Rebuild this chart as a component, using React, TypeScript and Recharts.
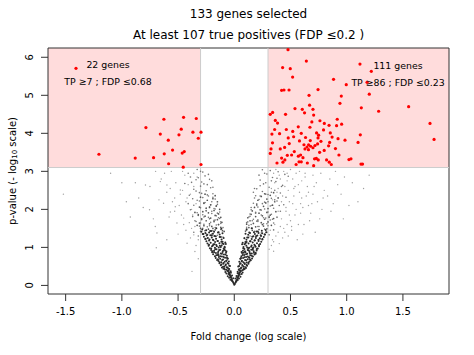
import { ScatterChart, Scatter, XAxis, YAxis, ReferenceArea, ReferenceLine } from 'recharts'

// axis setup
const xTicks = [-1.5, -1, -0.5, 0, 0.5, 1, 1.5]
const yTicks = [0, 1, 2, 3, 4, 5, 6]
const xDomain: [number, number] = [-1.657, 1.91]
const yDomain: [number, number] = [-0.226, 6.244]
const fcCut = 0.3
const pCut = 3.1

// selected genes, down-regulated (22)
const redLeft: [number, number][] = [
  [-1.408, 5.71], [-0.626, 4.37], [-0.451, 4.42], [-0.338, 4.39], [-0.786, 4.15], [-0.472, 4.11],
  [-0.658, 3.98], [-0.492, 3.96], [-0.368, 4.03], [-0.296, 4.03], [-0.32, 3.87], [-0.587, 3.82],
  [-0.549, 3.56], [-0.445, 3.52], [-0.463, 3.48], [-0.623, 3.46], [-0.718, 3.36], [-0.881, 3.35],
  [-1.204, 3.45], [-0.584, 3.2], [-0.454, 3.11], [-0.296, 3.18],
]

// selected genes, up-regulated (111)
const redRight: [number, number][] = [
  [0.478, 6.2], [0.641, 5.9], [0.43, 5.73], [0.498, 5.7], [1.118, 5.82], [1.219, 5.63], [0.519, 5.48],
  [0.883, 5.42], [0.996, 5.28], [1.181, 5.34], [0.421, 5.13], [0.442, 5.14], [0.487, 5.14], [0.745, 5.15],
  [0.665, 5.0], [0.952, 4.98], [1.201, 5.03], [0.94, 4.79], [0.67, 4.74], [0.54, 4.65], [0.605, 4.63],
  [0.7, 4.63], [1.13, 4.67], [1.284, 4.58], [1.551, 4.7], [0.32, 4.5], [0.341, 4.55], [0.456, 4.5],
  [0.625, 4.54], [0.706, 4.48], [0.365, 4.34], [0.385, 4.27], [0.762, 4.33], [0.916, 4.37], [0.569, 4.17],
  [0.673, 4.16], [0.801, 4.26], [0.843, 4.21], [0.91, 4.2], [0.955, 4.24], [1.741, 4.26], [0.359, 4.1],
  [0.463, 4.1], [0.596, 4.0], [0.732, 4.01], [0.794, 4.09], [0.854, 4.01], [0.335, 3.98], [0.403, 3.99],
  [0.528, 3.91], [0.634, 3.89], [0.745, 3.88], [1.121, 3.96], [0.923, 3.86], [0.985, 3.82], [0.676, 3.81],
  [0.771, 3.79], [0.848, 3.76], [1.101, 3.76], [1.777, 3.84], [0.489, 3.73], [0.661, 3.7], [0.679, 3.66],
  [0.647, 3.64], [0.718, 3.68], [0.741, 3.72], [0.839, 3.67], [0.448, 3.63], [0.327, 3.59], [0.409, 3.59],
  [0.629, 3.59], [0.534, 3.52], [0.759, 3.5], [0.32, 3.47], [0.51, 3.43], [0.59, 3.43], [0.611, 3.36],
  [0.931, 3.43], [0.421, 3.35], [0.472, 3.42], [0.714, 3.33], [0.73, 3.34], [0.747, 3.3], [0.821, 3.3],
  [1.02, 3.31], [1.038, 3.33], [0.433, 3.24], [0.576, 3.25], [0.596, 3.25], [0.706, 3.15], [0.845, 3.24],
  [0.863, 3.18], [1.127, 3.19], [1.141, 3.19], [0.62, 3.7], [0.66, 3.57], [0.7, 3.62], [0.58, 3.8],
  [0.52, 4.05], [0.75, 3.95], [0.8, 3.55], [0.45, 3.3], [0.38, 3.22], [0.55, 3.18], [0.65, 3.22],
  [0.9, 3.6], [0.34, 3.75], [0.48, 3.88], [0.87, 3.9], [0.69, 4.3], [0.57, 3.4],
]

// not selected: dense bottom of the volcano
const grayDense: [number, number][] = [
  [0, 0.02], [0.005, 0.04], [-0.005, 0.05], [0.01, 0.07], [-0.01, 0.08], [0.015, 0.1], [-0.015, 0.11],
  [0.02, 0.13], [-0.02, 0.14], [0.025, 0.16], [-0.025, 0.17], [0.01, 0.18], [-0.01, 0.19], [0.03, 0.2],
  [-0.03, 0.21], [0.035, 0.23], [-0.035, 0.24], [0.02, 0.25], [-0.02, 0.26], [0.04, 0.27], [-0.04, 0.28],
  [0.045, 0.3], [-0.045, 0.31], [0.03, 0.32], [-0.03, 0.33], [0.05, 0.34], [-0.05, 0.35],
  [0.03, 0.36], [-0.032, 0.37], [0.055, 0.38], [-0.058, 0.39], [0.07, 0.4], [-0.072, 0.41], [0.04, 0.42],
  [-0.045, 0.43], [0.085, 0.44], [-0.09, 0.45], [0.06, 0.46], [-0.063, 0.47], [0.1, 0.48], [-0.1, 0.49],
  [0.035, 0.5], [-0.038, 0.51], [0.075, 0.52], [-0.078, 0.53], [0.11, 0.54], [-0.115, 0.55], [0.05, 0.56],
  [-0.052, 0.57], [0.09, 0.58], [-0.095, 0.59], [0.125, 0.6], [-0.13, 0.61], [0.045, 0.62], [-0.048, 0.63],
  [0.068, 0.64], [-0.07, 0.65], [0.105, 0.66], [-0.108, 0.67], [0.14, 0.68], [-0.145, 0.69], [0.055, 0.7],
  [-0.06, 0.7], [0.06, 0.72], [-0.065, 0.73], [0.09, 0.74], [-0.095, 0.75], [0.12, 0.76], [-0.125, 0.77],
  [0.155, 0.78], [-0.16, 0.79], [0.075, 0.8], [-0.078, 0.81], [0.105, 0.82], [-0.11, 0.83], [0.14, 0.84],
  [-0.145, 0.85], [0.175, 0.86], [-0.18, 0.87], [0.065, 0.88], [-0.07, 0.89], [0.095, 0.9], [-0.1, 0.91],
  [0.13, 0.92], [-0.135, 0.93], [0.165, 0.94], [-0.17, 0.95], [0.2, 0.96], [-0.205, 0.97], [0.08, 0.98],
  [-0.085, 0.99], [0.115, 1.0], [-0.12, 1.01], [0.15, 1.02], [-0.155, 1.03], [0.185, 1.04], [-0.19, 1.05],
  [0.22, 1.06], [-0.225, 1.07], [0.07, 1.08], [-0.075, 1.09], [0.1, 1.1], [-0.105, 1.1], [0.135, 0.73],
  [-0.14, 0.8], [0.19, 0.83], [-0.195, 0.9], [0.085, 0.86], [-0.09, 0.94], [0.125, 0.97], [-0.128, 1.04],
  [0.17, 1.0], [-0.175, 1.08], [0.075, 1.12], [-0.08, 1.13], [0.11, 1.14], [-0.115, 1.15], [0.145, 1.16],
  [-0.15, 1.17], [0.18, 1.18], [-0.185, 1.19], [0.215, 1.2], [-0.22, 1.21], [0.25, 1.22], [-0.255, 1.23],
  [0.09, 1.24], [-0.095, 1.25], [0.125, 1.26], [-0.13, 1.27], [0.16, 1.28], [-0.165, 1.29], [0.195, 1.3],
  [-0.2, 1.31], [0.235, 1.32], [-0.24, 1.33], [0.27, 1.34], [-0.275, 1.35], [0.1, 1.36], [-0.105, 1.37],
  [0.14, 1.38], [-0.145, 1.39], [0.175, 1.4], [-0.18, 1.41], [0.21, 1.42], [-0.215, 1.43], [0.245, 1.44],
  [-0.25, 1.45], [0.28, 1.46], [-0.285, 1.47], [0.11, 1.48], [-0.115, 1.49], [0.155, 1.5], [-0.16, 1.5],
]

const grayDenseLeft: [number, number][] = [
  [-0.021, 0.12], [-0.034, 0.15], [-0.046, 0.2], [-0.029, 0.22], [-0.058, 0.24], [-0.038, 0.27], [-0.052, 0.3],
  [-0.07, 0.31], [-0.043, 0.33], [-0.079, 0.35], [-0.061, 0.38], [-0.049, 0.4], [-0.084, 0.42], [-0.097, 0.44],
  [-0.055, 0.45], [-0.068, 0.48], [-0.11, 0.47], [-0.089, 0.5], [-0.045, 0.52], [-0.12, 0.53], [-0.075, 0.55],
  [-0.098, 0.57], [-0.06, 0.59], [-0.132, 0.58], [-0.115, 0.61], [-0.085, 0.62], [-0.141, 0.64], [-0.07, 0.65],
  [-0.153, 0.67], [-0.1, 0.68], [-0.126, 0.7], [-0.058, 0.71], [-0.165, 0.72], [-0.082, 0.73], [-0.137, 0.75],
  [-0.11, 0.76], [-0.172, 0.77], [-0.066, 0.78], [-0.148, 0.8], [-0.092, 0.81], [-0.188, 0.82], [-0.12, 0.84],
  [-0.163, 0.85], [-0.073, 0.86], [-0.197, 0.87], [-0.104, 0.88], [-0.142, 0.89], [-0.18, 0.91], [-0.08, 0.92],
  [-0.206, 0.93], [-0.125, 0.94], [-0.158, 0.95], [-0.094, 0.97], [-0.217, 0.98], [-0.172, 0.99], [-0.138, 1.0],
  [-0.086, 1.02], [-0.198, 1.03], [-0.228, 1.04], [-0.112, 1.05], [-0.16, 1.06], [-0.186, 1.08], [-0.095, 1.09],
  [-0.238, 1.1], [-0.132, 1.11], [-0.21, 1.12], [-0.171, 1.14], [-0.104, 1.15], [-0.248, 1.16], [-0.146, 1.17],
  [-0.224, 1.18], [-0.19, 1.2], [-0.113, 1.21], [-0.258, 1.22], [-0.162, 1.23], [-0.235, 1.25], [-0.2, 1.26],
  [-0.12, 1.27], [-0.27, 1.28], [-0.177, 1.3], [-0.246, 1.31], [-0.213, 1.32], [-0.13, 1.34], [-0.281, 1.35],
  [-0.19, 1.36], [-0.257, 1.38], [-0.224, 1.39], [-0.139, 1.4], [-0.292, 1.41], [-0.205, 1.43],
]

const grayDenseRight: [number, number][] = [
  [0.018, 0.1], [0.031, 0.14], [0.042, 0.18], [0.026, 0.21], [0.055, 0.23], [0.036, 0.26], [0.048, 0.29],
  [0.066, 0.3], [0.04, 0.32], [0.074, 0.34], [0.058, 0.37], [0.045, 0.39], [0.081, 0.41], [0.092, 0.43],
  [0.052, 0.44], [0.064, 0.47], [0.104, 0.46], [0.085, 0.49], [0.043, 0.51], [0.114, 0.52], [0.071, 0.54],
  [0.094, 0.56], [0.057, 0.58], [0.126, 0.57], [0.109, 0.6], [0.081, 0.61], [0.135, 0.63], [0.066, 0.64],
  [0.147, 0.66], [0.096, 0.67], [0.12, 0.69], [0.055, 0.7], [0.158, 0.71], [0.078, 0.72], [0.131, 0.74],
  [0.105, 0.75], [0.166, 0.76], [0.063, 0.77], [0.142, 0.79], [0.088, 0.8], [0.18, 0.81], [0.115, 0.83],
  [0.156, 0.84], [0.07, 0.85], [0.19, 0.86], [0.1, 0.87], [0.136, 0.88], [0.173, 0.9], [0.077, 0.91],
  [0.199, 0.92], [0.12, 0.93], [0.151, 0.94], [0.09, 0.96], [0.209, 0.97], [0.165, 0.98], [0.132, 0.99],
  [0.082, 1.01], [0.19, 1.02], [0.22, 1.03], [0.107, 1.04], [0.154, 1.05], [0.179, 1.07], [0.091, 1.08],
  [0.23, 1.09], [0.127, 1.1], [0.202, 1.11], [0.164, 1.13], [0.099, 1.14], [0.24, 1.15], [0.14, 1.16],
  [0.216, 1.17], [0.183, 1.19], [0.108, 1.2], [0.25, 1.21], [0.155, 1.22], [0.227, 1.24], [0.192, 1.25],
  [0.115, 1.26], [0.262, 1.27], [0.17, 1.29], [0.238, 1.3], [0.205, 1.31], [0.124, 1.33], [0.273, 1.34],
  [0.183, 1.35], [0.249, 1.37], [0.216, 1.38], [0.133, 1.39], [0.284, 1.4], [0.197, 1.42],
]

// not selected: the arms just above the dense part
const grayUpper: [number, number][] = [
  [-0.105, 1.44], [-0.17, 1.46], [-0.23, 1.48], [-0.3, 1.5], [-0.12, 1.53], [-0.2, 1.55], [-0.27, 1.57],
  [-0.14, 1.6], [-0.22, 1.62], [-0.31, 1.64], [-0.11, 1.66], [-0.18, 1.68], [-0.25, 1.7], [-0.15, 1.73],
  [-0.29, 1.75], [-0.21, 1.77], [-0.12, 1.79], [-0.26, 1.82], [-0.17, 1.84], [-0.32, 1.86], [-0.14, 1.88],
  [-0.23, 1.91], [-0.28, 1.94], [-0.18, 1.97], [-0.13, 2.0], [-0.25, 2.03], [-0.31, 2.06], [-0.16, 2.09],
  [-0.21, 2.12], [-0.27, 2.16], [-0.15, 2.2], [-0.24, 2.24], [-0.19, 2.28], [-0.3, 2.32], [-0.17, 2.36],
  [-0.26, 2.4], [-0.22, 2.05], [-0.35, 1.92], [-0.33, 1.58], [-0.19, 1.5], [-0.09, 1.42], [-0.26, 1.44],
  [0.1, 1.43], [0.16, 1.45], [0.22, 1.47], [0.29, 1.49], [0.13, 1.52], [0.19, 1.54], [0.26, 1.56],
  [0.33, 1.58], [0.11, 1.61], [0.17, 1.63], [0.24, 1.65], [0.3, 1.67], [0.14, 1.7], [0.21, 1.72],
  [0.27, 1.74], [0.35, 1.76], [0.12, 1.78], [0.19, 1.81], [0.25, 1.83], [0.32, 1.85], [0.15, 1.87],
  [0.22, 1.9], [0.29, 1.92], [0.37, 1.94], [0.16, 1.96], [0.23, 1.99], [0.3, 2.02], [0.18, 2.05],
  [0.26, 2.08], [0.34, 2.11], [0.2, 2.14], [0.28, 2.17], [0.36, 2.2], [0.21, 2.24], [0.29, 2.27],
  [0.39, 2.3], [0.24, 2.34], [0.32, 2.37], [0.27, 2.41], [0.35, 2.44], [0.25, 1.6], [0.31, 1.79],
]

// not selected: upper arms of the volcano
const grayMid: [number, number][] = [
  [0.09, 1.25], [-0.1, 1.27], [0.14, 1.3], [-0.15, 1.32], [0.19, 1.28], [-0.2, 1.35], [0.24, 1.38],
  [-0.25, 1.36], [0.29, 1.4], [-0.3, 1.42], [0.11, 1.45], [-0.12, 1.47], [0.16, 1.5], [-0.17, 1.52],
  [0.21, 1.55], [-0.22, 1.57], [0.27, 1.48], [-0.28, 1.5], [0.13, 1.58], [-0.14, 1.6], [0.18, 1.42],
  [-0.19, 1.44], [0.23, 1.22], [-0.24, 1.24], [0.31, 1.33], [-0.32, 1.3], [0.35, 1.46], [-0.36, 1.4],
  [0.11, 1.65], [-0.12, 1.67], [0.16, 1.7], [-0.17, 1.72], [0.21, 1.68], [-0.22, 1.75], [0.26, 1.78],
  [-0.27, 1.8], [0.31, 1.82], [-0.32, 1.84], [0.14, 1.88], [-0.15, 1.9], [0.19, 1.92], [-0.2, 1.95],
  [0.24, 1.98], [-0.25, 1.96], [0.29, 1.62], [-0.3, 1.64], [0.34, 1.74], [-0.35, 1.7], [0.13, 1.8],
  [-0.14, 1.78], [0.15, 2.05], [-0.16, 2.08], [0.2, 2.1], [-0.21, 2.12], [0.25, 2.15], [-0.26, 2.18],
  [0.3, 2.2], [-0.31, 2.22], [0.36, 2.25], [-0.37, 2.28], [0.18, 2.3], [-0.19, 2.32], [0.23, 2.35],
  [-0.24, 2.38], [0.28, 2.4], [-0.29, 2.42], [0.33, 2.45], [-0.34, 2.48], [0.4, 2.1], [-0.41, 2.15],
  [0.17, 2.45], [-0.18, 2.02], [0.18, 2.55], [-0.19, 2.58], [0.23, 2.62], [-0.24, 2.65], [0.28, 2.7],
  [-0.29, 2.72], [0.33, 2.75], [-0.34, 2.78], [0.38, 2.82], [-0.39, 2.85], [0.22, 2.9], [-0.23, 2.92],
  [0.27, 2.95], [-0.28, 2.98], [0.32, 3.02], [-0.33, 3.05], [0.42, 2.6], [-0.44, 2.68], [0.45, 2.92],
  [-0.2, 2.75],
  [-0.1, 1.52], [-0.24, 1.54], [-0.31, 1.56], [-0.16, 1.59], [-0.27, 1.61], [-0.12, 1.63], [-0.21, 1.66],
  [-0.34, 1.68], [-0.18, 1.71], [-0.29, 1.73], [-0.13, 1.76], [-0.23, 1.79], [-0.37, 1.81], [-0.16, 1.83],
  [-0.28, 1.86], [-0.2, 1.89], [-0.33, 1.91], [-0.13, 1.93], [-0.25, 1.97], [-0.39, 1.99], [-0.17, 2.01],
  [-0.3, 2.04], [-0.22, 2.07], [-0.36, 2.11], [-0.15, 2.13], [-0.27, 2.17], [-0.2, 2.2], [-0.33, 2.24],
  [-0.17, 2.27], [-0.28, 2.31], [-0.23, 2.35], [-0.4, 2.37], [-0.19, 2.41], [-0.31, 2.44], [-0.25, 2.49],
  [-0.36, 2.53], [-0.21, 2.57], [-0.3, 2.61], [-0.27, 2.67], [-0.38, 2.71], [-0.22, 2.79], [-0.32, 2.83],
  [-0.26, 2.88], [-0.41, 2.95], [-0.3, 3.0],
  [0.11, 1.53], [0.22, 1.55], [0.3, 1.57], [0.15, 1.6], [0.26, 1.62], [0.35, 1.64], [0.12, 1.67],
  [0.2, 1.69], [0.32, 1.72], [0.17, 1.74], [0.28, 1.77], [0.38, 1.79], [0.14, 1.82], [0.24, 1.85],
  [0.33, 1.87], [0.19, 1.9], [0.3, 1.93], [0.41, 1.95], [0.15, 1.99], [0.27, 2.01], [0.35, 2.03],
  [0.21, 2.06], [0.32, 2.09], [0.44, 2.12], [0.17, 2.16], [0.27, 2.19], [0.38, 2.22], [0.22, 2.26],
  [0.33, 2.29], [0.46, 2.32], [0.19, 2.36], [0.3, 2.39], [0.41, 2.43], [0.25, 2.47], [0.36, 2.5],
  [0.2, 2.54], [0.31, 2.58], [0.43, 2.63], [0.26, 2.67], [0.37, 2.73], [0.23, 2.77], [0.34, 2.84],
  [0.48, 2.87], [0.29, 2.93], [0.39, 2.99], [0.25, 3.04],
]

// not selected: scattered flanks
const grayOuter: [number, number][] = [
  [-1.52, 2.4], [-0.925, 1.8], [-0.79, 2.64], [-0.754, 1.99], [-0.703, 1.55], [-0.688, 1.38],
  [-0.694, 0.99], [-0.658, 2.73], [-0.629, 2.16], [-0.599, 2.64], [-0.569, 1.93], [-0.525, 2.07],
  [-0.51, 1.64], [-0.48, 2.51], [-0.45, 1.77], [-0.42, 2.3], [-0.376, 0.37], [-0.42, 1.11], [-0.36, 1.33],
  [-0.35, 0.89], [-0.45, 1.6], [-0.55, 2.2], [-0.65, 2.8], [-0.7, 3.0], [-0.48, 2.4], [-0.52, 2.7],
  [-0.38, 1.5], [-0.58, 1.8], [-0.75, 2.6], [-0.85, 2.3], [-1.0, 2.7], [-0.56, 3.0], [-0.44, 2.9],
  [-0.36, 2.6], [0.35, 0.9], [0.4, 1.1], [0.45, 1.4], [0.5, 1.7], [0.55, 2.0], [0.6, 2.3], [0.65, 2.6],
  [0.7, 2.9], [0.38, 1.8], [0.42, 2.2], [0.48, 2.5], [0.52, 2.8], [0.58, 3.0], [0.62, 1.6], [0.68, 1.9],
  [0.74, 2.2], [0.8, 2.5], [0.85, 2.8], [0.9, 3.0], [0.95, 2.4], [1.05, 2.7], [1.2, 2.9], [0.44, 3.0],
  [0.36, 2.7], [0.56, 1.2], [0.72, 1.4], [0.78, 2.0], [1.1, 2.2], [0.4, 2.9], [0.5, 3.05], [0.33, 2.1],
  [0.37, 2.35], [0.41, 1.55], [0.46, 1.95], [0.53, 2.35], [0.57, 2.65], [0.61, 2.05], [0.66, 2.45],
  [0.34, 1.2], [0.39, 2.55], [0.47, 2.75], [0.63, 2.85], [0.71, 2.6], [0.76, 1.75], [0.88, 2.15],
  [0.31, 0.95], [0.33, 1.05], [0.37, 1.3], [0.43, 1.25], [0.47, 1.6], [0.51, 1.45], [0.54, 1.85],
  [0.59, 2.15], [0.64, 2.35], [0.69, 2.15], [0.73, 2.7], [0.77, 2.95], [0.83, 2.35], [0.86, 1.95],
  [0.92, 2.65], [0.98, 2.85], [1.02, 2.1], [1.15, 2.55], [0.61, 1.35], [0.67, 1.7], [0.55, 2.95],
  [0.45, 2.6], [0.49, 2.2], [0.57, 1.6], [0.42, 1.75], [0.35, 2.95], [0.53, 2.55], [0.63, 2.95],
  [0.79, 2.3], [0.97, 1.75], [-0.32, 0.7], [-0.34, 1.05], [-0.39, 1.25], [-0.43, 1.45], [-0.47, 1.85],
  [-0.53, 2.3], [-0.57, 2.55], [-0.62, 2.95], [-0.67, 2.25], [-0.72, 1.75], [-0.81, 2.05], [-0.88, 2.7],
  [-0.96, 2.2], [-1.1, 2.95], [-0.5, 1.35], [-0.41, 2.65], [-0.46, 3.0], [-0.6, 1.2], [-0.38, 2.0],
  [-0.33, 2.85],
  [0.32, 1.45], [0.36, 1.6], [0.39, 1.95], [0.34, 2.25], [0.38, 2.45], [0.43, 2.35], [0.46, 2.05],
  [0.49, 1.85], [0.52, 2.15], [0.54, 2.6], [0.44, 1.5], [0.41, 2.8], [0.37, 3.05], [0.33, 2.55],
  [0.47, 2.95], [0.58, 2.45], [0.6, 2.75], [0.51, 1.55], [0.35, 1.15], [0.39, 1.4], [0.66, 2.1],
  [0.7, 2.4], [0.59, 1.9], [0.48, 1.3], [-0.32, 1.2], [-0.35, 1.55], [-0.37, 1.85], [-0.34, 2.15],
  [-0.39, 2.4], [-0.43, 2.2], [-0.46, 2.5], [-0.36, 2.95], [-0.4, 1.65], [-0.49, 2.1], [-0.53, 1.95],
  [-0.6, 2.45],
]

const toPts = (a: [number, number][]) => a.map(([x, y]) => ({ x, y }))

const dot = (r: number, fill: string) => (p: any) => <circle cx={p.cx} cy={p.cy} r={r} fill={fill} />

const YTick = (props: any) => {
  const { x, y, payload } = props
  return (
    <text x={x} y={y} dy="0.35em" textAnchor="middle" fontSize={10} fill="#000"
      transform={`rotate(-90 ${x} ${y})`}>
      {payload.value}
    </text>
  )
}

const font = 'DejaVu Sans, sans-serif'

export default function App() {
  return (
    <div style={{ position: 'absolute', left: 0, top: 0, width: 474, height: 355, background: '#fff', fontFamily: font }}>
      <ScatterChart width={474} height={355} margin={{ top: 48, right: 25, left: 0, bottom: 0 }}>
        <XAxis type="number" dataKey="x" domain={xDomain} allowDataOverflow ticks={xTicks} height={61}
          tickFormatter={(v: number) => v.toFixed(1)} tickSize={7} tickMargin={7} axisLine={false}
          tick={{ fontSize: 10, fill: '#000', fontFamily: font }} tickLine={{ stroke: '#333' }} />
        <YAxis type="number" dataKey="y" domain={yDomain} allowDataOverflow ticks={yTicks} width={48}
          tickSize={7} tickMargin={11} axisLine={false} tick={<YTick />} tickLine={{ stroke: '#333' }} />
        <ReferenceArea x1={xDomain[0]} x2={-fcCut} y1={pCut} y2={yDomain[1]} fill="#ffdcdc" fillOpacity={1} stroke="none" />
        <ReferenceArea x1={fcCut} x2={xDomain[1]} y1={pCut} y2={yDomain[1]} fill="#ffdcdc" fillOpacity={1} stroke="none" />
        <ReferenceLine x={-fcCut} stroke="#cccccc" />
        <ReferenceLine x={fcCut} stroke="#cccccc" />
        <ReferenceLine y={pCut} stroke="#cccccc" />
        <Scatter data={toPts(grayOuter)} shape={dot(0.7, '#a0a0a0')} isAnimationActive={false} />
        <Scatter data={toPts(grayMid)} shape={dot(0.8, '#777')} isAnimationActive={false} />
        <Scatter data={toPts(grayUpper)} shape={dot(0.85, '#555')} isAnimationActive={false} />
        <Scatter data={toPts(grayDense)} shape={dot(1, '#2a2a2a')} isAnimationActive={false} />
        <Scatter data={toPts(grayDenseLeft)} shape={dot(1, '#2a2a2a')} isAnimationActive={false} />
        <Scatter data={toPts(grayDenseRight)} shape={dot(1, '#2a2a2a')} isAnimationActive={false} />
        <Scatter data={toPts(redLeft)} shape={dot(1.6, '#f00')} isAnimationActive={false} />
        <Scatter data={toPts(redRight)} shape={dot(1.6, '#f00')} isAnimationActive={false} />
        <ReferenceArea x1={xDomain[0]} x2={xDomain[1]} y1={yDomain[0]} y2={yDomain[1]} fill="none" stroke="#333" />
      </ScatterChart>
      <svg width={474} height={355} style={{ position: 'absolute', left: 0, top: 0, pointerEvents: 'none' }}
        fontFamily={font} fill="#000">
        <text x={248.5} y={14} fontSize={12} textAnchor="middle" dominantBaseline="central">133 genes selected</text>
        <text x={248.5} y={35} fontSize={12} textAnchor="middle" dominantBaseline="central">At least 107 true positives (FDP ≤0.2 )</text>
        <text x={108} y={64} fontSize={9.4} textAnchor="middle" dominantBaseline="central">22 genes</text>
        <text x={108} y={81} fontSize={9.4} textAnchor="middle" dominantBaseline="central">TP ≥7 ; FDP ≤0.68</text>
        <text x={398} y={65} fontSize={9.4} textAnchor="middle" dominantBaseline="central">111 genes</text>
        <text x={398} y={82} fontSize={9.4} textAnchor="middle" dominantBaseline="central">TP ≥86 ;  FDP ≤0.23</text>
        <text x={248.5} y={336} fontSize={10} textAnchor="middle" dominantBaseline="central">Fold change (log scale)</text>
        <text x={12} y={171} fontSize={10} textAnchor="middle" dominantBaseline="central" transform="rotate(-90 12 171)">
          p-value (- log<tspan fontSize={7} dy={3}>10</tspan><tspan dy={-3}> scale)</tspan>
        </text>
      </svg>
    </div>
  )
}
